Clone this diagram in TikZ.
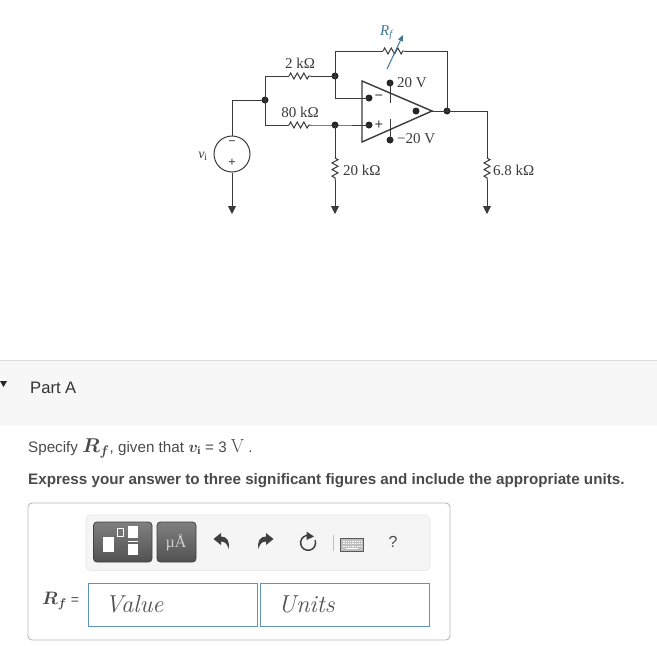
\documentclass[tikz,border=0pt]{standalone}
\usepackage{fix-cm}
\usepackage{fontspec}
\setmainfont{Liberation Serif}
\setsansfont{Liberation Sans}
\newfontfamily\lmfont{Latin Modern Roman}
\usetikzlibrary{arrows.meta,decorations.pathmorphing}
\definecolor{wirec}{HTML}{3A3A3A}
\definecolor{txtc}{HTML}{4A4A4A}
\definecolor{blue1}{HTML}{3F7599}
\definecolor{boxb}{HTML}{5F93B5}
\tikzset{
  wire/.style={draw=wirec,line width=1pt},
  tipwire/.style={wire,-{Triangle[length=8pt,width=8pt]}},
  res/.style={decorate,decoration={zigzag,segment length=6.6pt,amplitude=3pt}},
  dotn/.style={circle,fill=black!85,inner sep=0pt,minimum size=7pt},
  clab/.style={text=wirec,font=\fontsize{15}{15}\selectfont,inner sep=0pt},
  uitext/.style={text=txtc,font=\sffamily\fontsize{15.2}{16}\selectfont,inner sep=0pt,anchor=west},
  btn/.style={draw=black!75,line width=0.8pt,rounded corners=3.5pt,top color=black!50,bottom color=black!68},
  whitebit/.style={fill=white,draw=none},
  field/.style={draw=boxb,line width=0.9pt,fill=white},
  hint/.style={text=black!68,font=\lmfont\fontsize{24.5}{25}\selectfont\itshape,inner sep=0pt,anchor=west},
  icon/.style={fill=black!75,draw=none},
  x=1pt,y=-1pt
}
\begin{document}
\begin{tikzpicture}
\useasboundingbox (0,0) rectangle (657,646);
% circuit coordinates
\node[dotn] (j1) at (265,100) {};
\node[dotn] (nm) at (335,76) {};
\node[dotn] (np) at (335,125) {};
\node[dotn] (out) at (447,111) {};
\node[dotn] (inm) at (369,98) {};
\node[dotn] (inp) at (369,125) {};
\node[dotn] (outin) at (416,111) {};
\node[dotn] (vp) at (390,83) {};
\node[dotn] (vn) at (390,140) {};
\node[circle,draw=wirec,line width=1pt,minimum size=36pt,inner sep=0pt] (src) at (232,154) {};
\coordinate (tl) at (265,76);
\coordinate (bl) at (265,125);
\coordinate (srct) at (232,100);
\coordinate (r1a) at (289,76);
\coordinate (r1b) at (311,76);
\coordinate (r2a) at (289,125);
\coordinate (r2b) at (311,125);
\coordinate (ft) at (335,51);
\coordinate (ftr) at (447,51);
\coordinate (rfa) at (383,51);
\coordinate (rfb) at (405,51);
\coordinate (mc) at (335,98);
\coordinate (r3a) at (335,158);
\coordinate (r3b) at (335,180);
\coordinate (r4t) at (487,111);
\coordinate (r4a) at (487,158);
\coordinate (r4b) at (487,180);
\coordinate (g0) at (232,214);
\coordinate (g1) at (335,214);
\coordinate (g2) at (487,214);
\coordinate (ta) at (362,81);
\coordinate (tb) at (362,142);
\coordinate (tc) at (432,111);
\coordinate (vpe) at (390,103);
\coordinate (vne) at (390,119);
\coordinate (rfs) at (387,69);
\coordinate (rfe) at (403,35);
% wires
\draw[wire] (src.north) -- (srct) -- (j1.center);
\draw[wire] (j1.center) -- (tl) -- (r1a);
\draw[wire,res] (r1a) -- (r1b);
\draw[wire] (r1b) -- (nm.center);
\draw[wire] (j1.center) -- (bl) -- (r2a);
\draw[wire,res] (r2a) -- (r2b);
\draw[wire] (r2b) -- (np.center) -- (inp.center);
\draw[wire] (nm.center) -- (ft) -- (rfa);
\draw[wire,res] (rfa) -- (rfb);
\draw[wire] (rfb) -- (ftr) -- (out.center);
\draw[wire] (nm.center) -- (mc) -- (inm.center);
\draw[wire] (np.center) -- (r3a);
\draw[wire,res] (r3a) -- (r3b);
\draw[tipwire] (r3b) -- (g1);
\draw[wire] (out.center) -- (r4t) -- (r4a);
\draw[wire,res] (r4a) -- (r4b);
\draw[tipwire] (r4b) -- (g2);
\draw[tipwire] (src.south) -- (g0);
\draw[wire] (tc) -- (out.center);
\draw[wire,line width=1.4pt] (ta) -- (tb) -- (tc) -- cycle;
\draw[wire] (vp.center) -- (vpe);
\draw[wire] (vn.center) -- (vne);
\draw[draw=blue1,line width=1pt,-{Triangle[length=6pt,width=5pt]}] (rfs) -- (rfe);
% circuit labels
\node[clab] (l2k) at (300,63) {2 kΩ};
\node[clab] (l80k) at (300,112) {80 kΩ};
\node[clab,anchor=west] (l20k) at (343,170) {20 kΩ};
\node[clab,anchor=west] (l68k) at (493,170) {6.8 kΩ};
\node[clab,anchor=west] (l20v) at (397,83) {20 V};
\node[clab,anchor=west] (lm20v) at (397,139) {−20 V};
\node[clab,text=blue1] (lrf) at (387,33) {\textit{R}\textsubscript{\textit{f}}};
\node[clab,font=\fontsize{14}{14}\selectfont] (lvi) at (203,156) {\textit{v}\textsubscript{i}};
\node[clab,font=\bfseries\fontsize{15}{15}\selectfont] (lm1) at (379,98) {−};
\node[clab,font=\bfseries\fontsize{15}{15}\selectfont] (lp1) at (379,125) {+};
\node[clab,font=\bfseries\fontsize{13}{13}\selectfont] (sm) at (232,143) {−};
\node[clab,font=\bfseries\fontsize{13}{13}\selectfont] (sp) at (232,163) {+};
% Part A band
\fill[fill=black!3] (0,360.5) rectangle (657,426);
\draw[black!14,line width=0.8pt] (0,360.5) -- (657,360.5);
\fill[black!85] (0,381) -- (7,381) -- (3.5,387) -- cycle;
\node[uitext,font=\sffamily\fontsize{16.6}{18}\selectfont,text=black!80] (parta) at (30,388) {Part A};
\node[uitext] (spec) at (28,448.5) {Specify {\fontsize{20}{20}\selectfont\boldmath$R_f$}, given that {\fontsize{16}{16}\selectfont\boldmath$v_{\mathrm{i}}$} = 3 {\lmfont\fontsize{19}{19}\selectfont V} .};
\node[uitext,font=\sffamily\bfseries\fontsize{15.2}{16}\selectfont] (expr) at (28,481) {Express your answer to three significant figures and include the appropriate units.};
% answer panel
\draw[black!28,line width=0.9pt,rounded corners=4pt,fill=white] (28,503) rectangle (450,640);
\draw[black!9,line width=0.8pt,rounded corners=5pt,fill=black!4] (86,515) rectangle (430,570.5);
\draw[btn] (93.5,522) rectangle (152,562);
\draw[btn] (157,522) rectangle (196,562);
\fill[whitebit] (103,537) rectangle (114,552);
\draw[white,line width=0.8pt] (117.5,528.5) rectangle (123.5,536.5);
\fill[whitebit] (128,526) rectangle (138,538);
\fill[whitebit] (128,540.5) rectangle (138,541.5);
\fill[whitebit] (128,543.5) rectangle (138,555);
\node[inner sep=0pt,text=black!18,font=\fontsize{16}{16}\selectfont] (mu) at (176,543) {µÅ};
% undo / redo / refresh / keyboard
\fill[icon] (213.5,539) -- (221,533) -- (221,536.5) .. controls (227,536.5) and (230,541) .. (228.5,549) .. controls (227.5,544) and (225,541.5) .. (221,541.5) -- (221,545) -- cycle;
\fill[icon] (273.5,539) -- (266,533) -- (266,536.5) .. controls (260,536.5) and (257,541) .. (258.5,549) .. controls (259.5,544) and (262,541.5) .. (266,541.5) -- (266,545) -- cycle;
\draw[black!75,line width=1.5pt] (312.2,536.5) arc[start angle=-57,end angle=-380,radius=7.5];
\fill[icon] (306.5,531.5) -- (314,536.5) -- (306.5,540) -- cycle;
\draw[black!25,line width=0.8pt] (333,535) -- (333,551);
\draw[black!65,line width=0.8pt,fill=black!25] (340.5,538.5) rectangle (363,551);
\draw[white,line width=0.7pt,dash pattern=on 1pt off 0.8pt] (342.5,541) -- (361,541) (342.5,543.5) -- (361,543.5) (342.5,546) -- (361,546);
\draw[white,line width=0.8pt] (346,548.5) -- (358,548.5);
\node[inner sep=0pt,text=black!70,font=\sffamily\fontsize{16}{16}\selectfont] (help) at (393,542) {?};
% answer fields
\node[inner sep=0pt,text=txtc,anchor=west,font=\sffamily\fontsize{14}{14}\selectfont] (rfeq) at (42,601) {{\fontsize{18}{18}\selectfont\boldmath$R_f$} =};
\draw[field] (88,583) rectangle (257,626);
\draw[field] (260,583) rectangle (429,626);
\node[hint] (val) at (105,604) {Value};
\node[hint] (uni) at (278,604) {Units};
\end{tikzpicture}
\end{document}
